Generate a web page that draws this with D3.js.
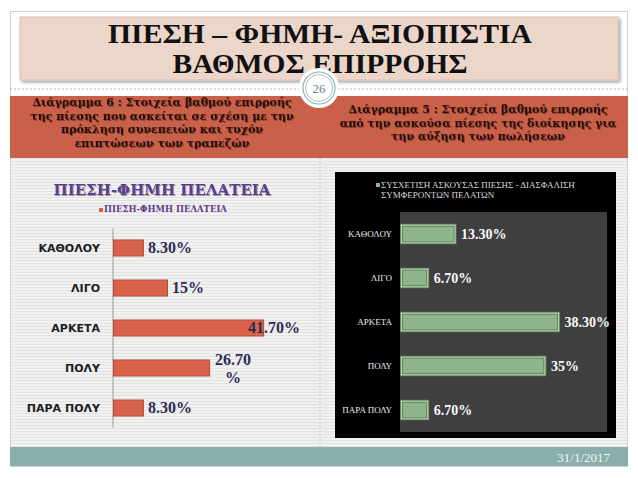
<!DOCTYPE html>
<html>
<head>
<meta charset="utf-8">
<script src="https://cdn.jsdelivr.net/npm/d3@7"></script>
<style>
  body { margin: 0; background: #fff; }
  svg { display: block; }
</style>
</head>
<body>
<div id="slide"></div>
<script>
const categories = ["ΚΑΘΟΛΟΥ", "ΛΙΓΟ", "ΑΡΚΕΤΑ", "ΠΟΛΥ", "ΠΑΡΑ ΠΟΛΥ"];
const pressureValues = [8.3, 15, 41.7, 26.7, 8.3];
const pressureLabels = ["8.30%", "15%", "41.70%", "26.70\n%", "8.30%"];
const salesValues = [13.3, 6.7, 38.3, 35, 6.7];
const salesLabels = ["13.30%", "6.70%", "38.30%", "35%", "6.70%"];

const titleLines = ["ΠΙΕΣΗ – ΦΗΜΗ- ΑΞΙΟΠΙΣΤΙΑ", "ΒΑΘΜΟΣ ΕΠΙΡΡΟΗΣ"];
const leftCaption = [
  "Διάγραμμα 6 : Στοιχεία βαθμού επιρροής",
  "της πίεσης που ασκείται σε σχέση με την",
  "πρόκληση συνεπειών και τυχόν",
  "επιπτώσεων των τραπεζών"
];
const rightCaption = [
  "Διάγραμμα 5 : Στοιχεία βαθμού επιρροής",
  "από την ασκούσα πίεσης της διοίκησης για",
  "την αύξηση των πωλήσεων"
];
const leftChartTitle = "ΠΙΕΣΗ-ΦΗΜΗ ΠΕΛΑΤΕΙΑ";
const rightLegend = ["ΣΥΣΧΕΤΙΣΗ ΑΣΚΟΥΣΑΣ ΠΙΕΣΗΣ - ΔΙΑΣΦΑΛΙΣΗ", "ΣΥΜΦΕΡΟΝΤΩΝ ΠΕΛΑΤΩΝ"];
const pageNumber = "26";
const dateText = "31/1/2017";

const SERIF = "Liberation Serif";
const WIDE_SERIF = "DejaVu Serif";

const svg = d3.select("#slide").append("svg")
  .attr("width", 638)
  .attr("height", 478);

const defs = svg.append("defs");
const stripes = defs.append("pattern")
  .attr("id", "stripes")
  .attr("width", 4).attr("height", 3)
  .attr("patternUnits", "userSpaceOnUse");
stripes.append("rect").attr("width", 4).attr("height", 3).attr("fill", "#f1f1f1");
stripes.append("rect").attr("y", 2).attr("width", 4).attr("height", 1).attr("fill", "#e3e3e3");

const shadow = defs.append("filter").attr("id", "shadow")
  .attr("x", "-5%").attr("y", "-10%").attr("width", "115%").attr("height", "130%");
shadow.append("feDropShadow")
  .attr("dx", 2).attr("dy", 2).attr("stdDeviation", 1.5)
  .attr("flood-color", "#000").attr("flood-opacity", 0.35);

const textShadow = defs.append("filter").attr("id", "tshadow");
textShadow.append("feDropShadow")
  .attr("dx", 1).attr("dy", 1).attr("stdDeviation", 0.6)
  .attr("flood-color", "#000").attr("flood-opacity", 0.35);

function drawFrame() {
  // striped lower panels
  svg.append("rect")
    .attr("x", 10).attr("y", 158).attr("width", 618).attr("height", 289)
    .attr("fill", "url(#stripes)");

  svg.append("line")
    .attr("x1", 320).attr("x2", 320).attr("y1", 158).attr("y2", 447)
    .attr("stroke", "#c4c4c4").attr("stroke-dasharray", "2,2");

  svg.append("rect")
    .attr("x", 10.5).attr("y", 11.5).attr("width", 617).attr("height", 455)
    .attr("fill", "none").attr("stroke", "#cdd3d3");

  // title box
  svg.append("rect")
    .attr("x", 20).attr("y", 17).attr("width", 598).attr("height", 63)
    .attr("fill", "#ecd6c9").attr("stroke", "#dcbfae")
    .attr("filter", "url(#shadow)");

  const titleWidths = [424, 295];
  svg.append("g").selectAll("text")
    .data(titleLines)
    .join("text")
    .attr("x", 320)
    .attr("y", (d, i) => 43 + i * 30)
    .attr("text-anchor", "middle")
    .attr("font-family", SERIF)
    .attr("font-weight", "bold")
    .attr("font-size", 28)
    .attr("textLength", (d, i) => titleWidths[i])
    .attr("lengthAdjust", "spacingAndGlyphs")
    .attr("fill", "#111")
    .text(d => d);

  svg.append("line")
    .attr("x1", 10).attr("x2", 628).attr("y1", 89).attr("y2", 89)
    .attr("stroke", "#a9b9b9").attr("stroke-dasharray", "2,2");

  // red caption band
  svg.append("rect")
    .attr("x", 10).attr("y", 96).attr("width", 618).attr("height", 62)
    .attr("fill", "#c8604a");

  // page number badge
  svg.append("circle").attr("cx", 319).attr("cy", 88).attr("r", 20).attr("fill", "#fff");
  svg.append("circle").attr("cx", 319).attr("cy", 88).attr("r", 16)
    .attr("fill", "none").attr("stroke", "#8fb0b0").attr("stroke-width", 1.2);
  svg.append("circle").attr("cx", 319).attr("cy", 88).attr("r", 13.5)
    .attr("fill", "none").attr("stroke", "#8fb0b0").attr("stroke-width", 0.8);
  svg.append("text")
    .attr("x", 319).attr("y", 93)
    .attr("text-anchor", "middle")
    .attr("font-family", SERIF)
    .attr("font-size", 13)
    .attr("fill", "#5f8585")
    .text(pageNumber);

  drawCaption(leftCaption, 162, 106);
  drawCaption(rightCaption, 478, 113);

  // footer
  svg.append("rect")
    .attr("x", 10).attr("y", 447).attr("width", 618).attr("height", 19)
    .attr("fill", "#8aaeab");
  svg.append("text")
    .attr("x", 610).attr("y", 462)
    .attr("text-anchor", "end")
    .attr("font-family", SERIF)
    .attr("font-size", 13)
    .attr("fill", "#f4f8f8")
    .text(dateText);
}

function drawCaption(lines, cx, y0) {
  svg.append("g").selectAll("text")
    .data(lines)
    .join("text")
    .attr("x", cx)
    .attr("y", (d, i) => y0 + i * 13.7)
    .attr("text-anchor", "middle")
    .attr("font-family", WIDE_SERIF)
    .attr("font-weight", "bold")
    .attr("font-size", 11)
    .attr("fill", "#2b0f08")
    .attr("filter", "url(#tshadow)")
    .text(d => d);
}

function drawPressureChart() {
  const x = d3.scaleLinear().domain([0, 50]).range([113, 293]);
  const y = d3.scaleBand().domain(categories).range([228, 428]).paddingInner(0.6).paddingOuter(0.3);
  const data = categories.map((c, i) => ({cat: c, value: pressureValues[i], label: pressureLabels[i]}));
  const g = svg.append("g");

  g.append("text")
    .attr("x", 162).attr("y", 195)
    .attr("text-anchor", "middle")
    .attr("font-family", WIDE_SERIF)
    .attr("font-weight", "bold")
    .attr("font-size", 15)
    .attr("fill", "#5b3f8e")
    .attr("filter", "url(#tshadow)")
    .text(leftChartTitle);

  g.append("rect")
    .attr("x", 99).attr("y", 208).attr("width", 4).attr("height", 4)
    .attr("fill", "#d9634a");
  g.append("text")
    .attr("x", 104).attr("y", 212)
    .attr("font-family", WIDE_SERIF)
    .attr("font-weight", "bold")
    .attr("font-size", 8.5)
    .attr("fill", "#5b3f8e")
    .text(leftChartTitle);

  g.append("g")
    .attr("transform", "translate(113,0)")
    .call(d3.axisLeft(y).tickSize(0).tickPadding(13))
    .call(a => a.select(".domain").attr("stroke", "#9a9a9a").attr("d", "M0,228V428"))
    .call(a => a.selectAll("text")
      .attr("font-family", "DejaVu Sans")
      .attr("font-weight", "bold")
      .attr("font-size", 11)
      .attr("fill", "#1d1d1d"));

  g.selectAll(".bar")
    .data(data)
    .join("rect")
    .attr("class", "bar")
    .attr("x", x(0) + 0.5)
    .attr("y", d => y(d.cat))
    .attr("width", d => x(d.value) - x(0))
    .attr("height", y.bandwidth())
    .attr("fill", "#d9634a")
    .attr("stroke", "#b24a36")
    .attr("stroke-width", 1);

  const labels = g.selectAll(".val")
    .data(data)
    .join("text")
    .attr("class", "val")
    .attr("font-family", SERIF)
    .attr("font-weight", "bold")
    .attr("font-size", 16)
    .attr("fill", "#2c2c52");

  labels.each(function(d) {
    const t = d3.select(this);
    const parts = d.label.split("\n");
    const cy = y(d.cat) + y.bandwidth() / 2;
    if (parts.length > 1) {
      t.append("tspan").text(parts[0]);
      const w = this.getComputedTextLength();
      const cx = x(d.value) + 6 + w / 2;
      t.attr("text-anchor", "middle");
      t.select("tspan").attr("x", cx).attr("y", cy - 3);
      t.append("tspan").attr("x", cx).attr("y", cy + 15).text(parts[1]);
    } else {
      t.text(parts[0]);
      const w = this.getComputedTextLength();
      t.attr("x", Math.min(x(d.value) + 5, 300 - w)).attr("y", cy + 5);
    }
  });
}

function drawSalesChart() {
  const x = d3.scaleLinear().domain([0, 50]).range([400, 607]);
  const y = d3.scaleBand().domain(categories).range([212, 432]).paddingInner(0.6).paddingOuter(0.3);
  const data = categories.map((c, i) => ({cat: c, value: salesValues[i], label: salesLabels[i]}));
  const g = svg.append("g");

  g.append("rect")
    .attr("x", 335).attr("y", 172).attr("width", 281).attr("height", 266)
    .attr("fill", "#000");
  g.append("rect")
    .attr("x", 400).attr("y", 212).attr("width", 207).attr("height", 220)
    .attr("fill", "#3f3f3f");

  g.append("rect")
    .attr("x", 376).attr("y", 183).attr("width", 4).attr("height", 4)
    .attr("fill", "#8fb58c");
  g.append("g").selectAll("text")
    .data(rightLegend)
    .join("text")
    .attr("x", 381)
    .attr("y", (d, i) => 188 + i * 10)
    .attr("font-family", SERIF)
    .attr("font-size", 9)
    .attr("fill", "#d8d8d8")
    .text(d => d);

  g.append("g")
    .attr("transform", "translate(400,0)")
    .call(d3.axisLeft(y).tickSize(0).tickPadding(8))
    .call(a => a.select(".domain").remove())
    .call(a => a.selectAll("text")
      .attr("font-family", SERIF)
      .attr("font-size", 9)
      .attr("fill", "#eeeeee"));

  g.selectAll(".bar")
    .data(data)
    .join("rect")
    .attr("class", "bar")
    .attr("x", x(0) + 1.5)
    .attr("y", d => y(d.cat))
    .attr("width", d => x(d.value) - x(0) - 1.5)
    .attr("height", y.bandwidth())
    .attr("fill", "#8fb58c")
    .attr("stroke", "#5f7f5b")
    .attr("stroke-width", 3);

  g.selectAll(".inner")
    .data(data)
    .join("rect")
    .attr("class", "inner")
    .attr("x", x(0) + 1.5)
    .attr("y", d => y(d.cat))
    .attr("width", d => x(d.value) - x(0) - 1.5)
    .attr("height", y.bandwidth())
    .attr("fill", "none")
    .attr("stroke", "#b6d3af")
    .attr("stroke-width", 1.2);

  g.selectAll(".val")
    .data(data)
    .join("text")
    .attr("class", "val")
    .attr("x", d => x(d.value) + 6)
    .attr("y", d => y(d.cat) + y.bandwidth() / 2 + 5)
    .attr("font-family", SERIF)
    .attr("font-weight", "bold")
    .attr("font-size", 14)
    .attr("fill", "#fafafa")
    .text(d => d.label);
}

drawFrame();
drawPressureChart();
drawSalesChart();
</script>
</body>
</html>
